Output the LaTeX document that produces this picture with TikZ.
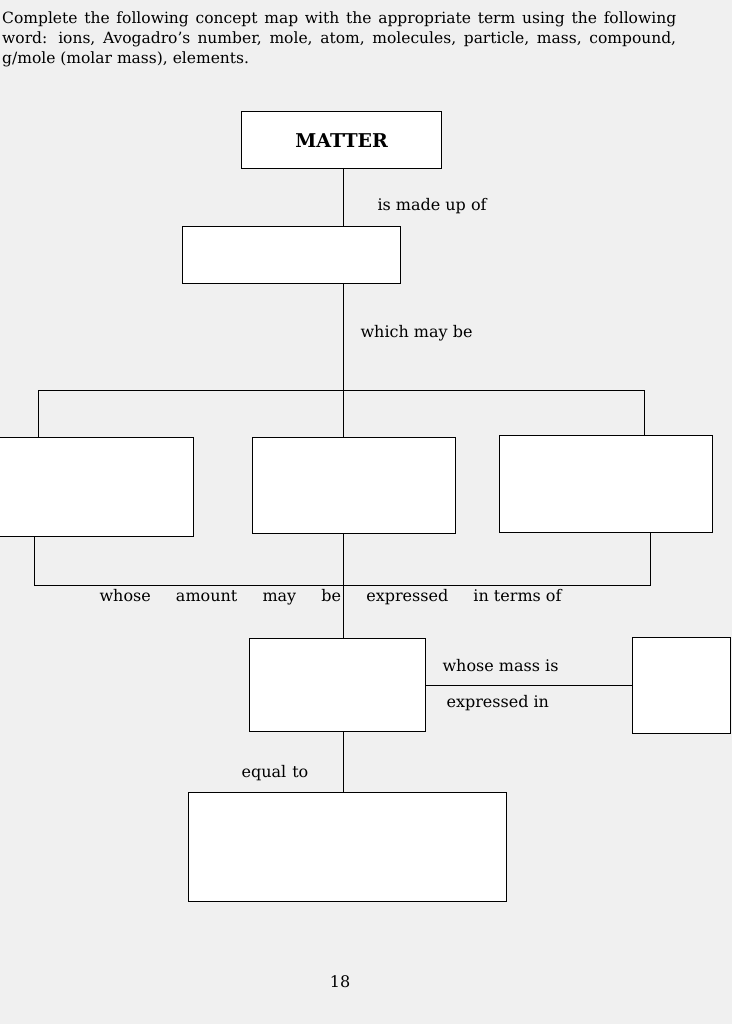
\documentclass[tikz,border=0pt]{standalone}
\usepackage{fontspec}
\setmainfont{DejaVu Serif}
\begin{document}
\begin{tikzpicture}[x=1pt,y=-1pt,
  box/.style={draw,line width=1.2pt,fill=white,anchor=north west,inner sep=0},
  ln/.style={line width=1pt},
  lbl/.style={font=\fontsize{16}{18}\selectfont}]
\fill[gray!12] (0,0) rectangle (732,1024);
\useasboundingbox (0,0) rectangle (732,1024);
\node[anchor=north west,align=left,inner sep=0,font=\fontsize{15.5}{20}\selectfont] (hdr) at (2,12)
 {\makebox[674pt][s]{Complete the following concept map with the appropriate term using the following}\\
  \makebox[674pt][s]{word: ions, Avogadro's number, mole, atom, molecules, particle, mass, compound,}\\
  g/mole (molar mass), elements.};
\node[box,minimum width=200pt,minimum height=57pt] (matter) at (241,111) {};
\node[font=\fontsize{19}{21}\selectfont\bfseries] at (matter.center) {MATTER};
\node[box,minimum width=218pt,minimum height=57pt] (b2) at (182,226) {};
\coordinate (m1) at (343,168); \coordinate (m2) at (343,226);
\draw[ln] (m1) -- (m2);
\node[lbl,anchor=west] at (374,206) {is made up of};
\node[box,minimum width=194pt,minimum height=99pt] (bl) at (-1,437) {};
\node[box,minimum width=203pt,minimum height=96pt] (bm) at (252,437) {};
\node[box,minimum width=213pt,minimum height=97pt] (br) at (499,435) {};
\coordinate (t1) at (38,390); \coordinate (t2) at (644,390); \coordinate (tc) at (343,390);
\draw[ln] (b2.south -| tc) -- (tc);
\node[lbl,anchor=west] at (357,333) {which may be};
\draw[ln] (bl.north -| t1) -- (t1) -- (t2) -- (br.north -| t2);
\draw[ln] (tc) -- (bm.north -| tc);
\coordinate (u1) at (34,585); \coordinate (u2) at (650,585); \coordinate (uc) at (343,585);
\draw[ln] (bl.south -| u1) -- (u1) -- (u2) -- (br.south -| u2);
\draw[ln] (bm.south -| uc) -- (uc);
\node[lbl,anchor=west] (w) at (96,597) {\makebox[462pt][s]{whose\hfill amount\hfill may\hfill be\hfill expressed\hfill in terms of}};
\node[box,minimum width=176pt,minimum height=93pt] (b4) at (249,638) {};
\draw[ln] (uc) -- (b4.north -| uc);
\node[box,minimum width=98pt,minimum height=96pt] (b5) at (632,637) {};
\draw[ln] (b4.east) -- (b5.west |- b4.east);
\node[lbl,anchor=west] at (439,666) {whose mass is};
\node[lbl,anchor=west] at (443,703) {expressed in};
\node[box,minimum width=318pt,minimum height=109pt] (b6) at (188,792) {};
\draw[ln] (b4.south -| uc) -- (b6.north -| uc);
\node[lbl] at (275,773) {equal\hspace{6pt}to};
\node[lbl] at (340,982) {18};
\end{tikzpicture}
\end{document}
